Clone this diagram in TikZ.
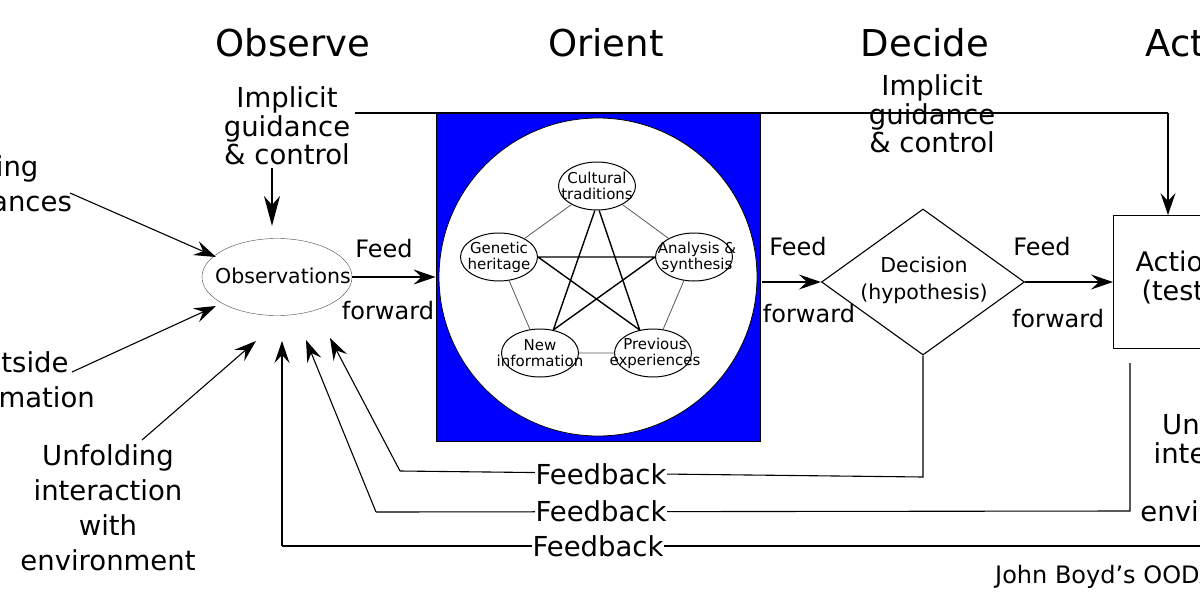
\documentclass[tikz,border=0pt]{standalone}
\usepackage{fontspec}
\setmainfont{DejaVu Sans}
\usetikzlibrary{shapes.geometric,arrows.meta}
\begin{document}
\begin{tikzpicture}[x=1pt,y=-1pt,
  big/.style={font=\fontsize{37}{40}\selectfont},
  lbl/.style={font=\fontsize{27.5}{28.5}\selectfont,align=center,inner sep=0},
  lbw/.style={font=\fontsize{27.5}{35}\selectfont,align=center,inner sep=0},
  ff/.style={font=\fontsize{24}{26}\selectfont,inner sep=0},
  pent/.style={ellipse,draw,line width=1pt,minimum width=77,minimum height=48,inner sep=0,font=\fontsize{15}{16}\selectfont,align=center},
  pt/.style={font=\fontsize{15}{16}\selectfont,align=center,inner sep=0},
  arr/.style={-{Stealth[length=22pt,width=15pt,inset=8pt]},line width=1.1pt},
  ln/.style={line width=1.1pt},
  fb/.style={font=\fontsize{27.5}{29}\selectfont,fill=white,inner sep=1pt}]
\clip (0,0) rectangle (1200,600);
\fill[white] (0,0) rectangle (1200,600);
% titles
\node[big] (t1) at (293,43) {Observe};
\node[big] (t2) at (606,43) {Orient};
\node[big] (t3) at (925,43) {Decide};
\node[big,anchor=west] (t4) at (1142,43) {Act};
% guidance
\node[lbl] (g1) at (287,126) {Implicit\\guidance\\\& control};
\node[lbl] (g2) at (932,114) {Implicit\\guidance\\\& control};
% orient box
\node[draw,fill=blue,minimum width=324,minimum height=328,inner sep=0,line width=0.8pt] (box) at (598,277) {};
\node[circle,draw,fill=white,minimum size=318,inner sep=0,line width=0.8pt] (circ) at (598,277) {};
\node[pent] (cu) at (597,186) {};
\node[pent] (ge) at (499,257) {};
\node[pent] (an) at (694,257) {};
\node[pent] (ne) at (540,353) {};
\node[pent] (pr) at (653,353) {};
\node[pt] (cut) at (597,186) {Cultural\\traditions};
\node[pt] (get) at (499,257) {Genetic\\heritage};
\node[pt] (ant) at (697,257) {Analysis \&\\synthesis};
\node[pt] (net) at (540,353) {New\\information};
\node[pt] (prt) at (655,353) {Previous\\experiences};
\draw[gray!70!black,line width=0.8pt] (cu)--(an) (an)--(pr) (pr)--(ne) (ne)--(ge) (ge)--(cu);
\draw[line width=1.4pt] (cu.265)--(ne.60) (cu.275)--(pr.120) (ge.0)--(an.180) (ge.0)--(pr.120) (an.180)--(ne.60);
% observations
\node[ellipse,draw,gray!60!black,minimum width=150,minimum height=77,inner sep=0] (obs) at (277,277) {};
\node[font=\fontsize{20.5}{22}\selectfont,inner sep=0] (obst) at (283,276) {Observations};
% top line
\coordinate (tl) at (355,113);
\coordinate (tr) at (1168,113);
\node[draw,minimum width=120,minimum height=133,inner sep=0,line width=1pt,anchor=north west] (act) at (1113,215) {};
\node[font=\fontsize{27}{29}\selectfont,align=center] (actt) at (1178,278) {Action\\(test)};
\draw[ln] (tl)--(tr);
\draw[arr] (tr)--(act.north -| tr);
\draw[-{Stealth[length=30pt,width=16pt,inset=9pt]},line width=1.5pt] (272,168)--(272,226);
% inputs
\node[lbw,anchor=east] (uc) at (72,184) {Unfolding\\circumstances};
\node[lbw,anchor=east] (oi) at (95,380) {Outside\\information};
\node[lbw] (ui) at (108,508) {Unfolding\\interaction\\with\\environment};
\coordinate (a1) at (70,193);
\coordinate (a2) at (72,372);
\coordinate (a3) at (142,440);
\draw[arr] (a1)--(216,257);
\draw[arr] (a2)--(216,306);
\draw[arr] (a3)--(256,341);
% feed forward
\draw[arr] (obs.east)--(box.west |- obs.east);
\node[ff] (f1) at (384,249) {Feed};
\node[ff] (w1) at (388,311) {forward};
\node[diamond,draw,line width=1.1pt,minimum width=203,minimum height=146,inner sep=0,aspect=1.39] (dec) at (923,282) {};
\node[font=\fontsize{20.5}{27}\selectfont,align=center,inner sep=0] (dect) at (924,280) {Decision\\(hypothesis)};
\draw[arr] (762,282)--(dec.west);
\node[ff] (f2) at (798,247) {Feed};
\node[ff] (w2) at (809,314) {forward};
\draw[arr] (dec.east)--(act.west |- dec.east);
\node[ff] (f3) at (1042,247) {Feed};
\node[ff] (w3) at (1058,319) {forward};
% feedback loops
\coordinate (b1) at (400,471);
\coordinate (b2) at (376,512);
\coordinate (b3) at (282,546);
\coordinate (r2) at (1130,363);
\draw[ln] (dec.south)--(923,477)--(b1);
\draw[arr] (b1)--(330,338);
\draw[ln] (r2)--(1130,511)--(b2);
\draw[arr] (b2)--(306,340);
\draw[ln] (1200,546)--(b3);
\draw[arr] (b3)--(282,341);
\node[fb] (fb1) at (601,474) {Feedback};
\node[fb] (fb2) at (601,511) {Feedback};
\node[fb] (fb3) at (598,546) {Feedback};
% right text
\node[lbl,font=\fontsize{27.5}{29}\selectfont] (ur) at (1228,468) {Unfolding\\interaction\\with\\environment};
\node[font=\fontsize{24}{26}\selectfont,anchor=west,inner sep=0] (jb) at (995,577) {John Boyd\symbol{39}s OODA Loop};
\end{tikzpicture}
\end{document}
